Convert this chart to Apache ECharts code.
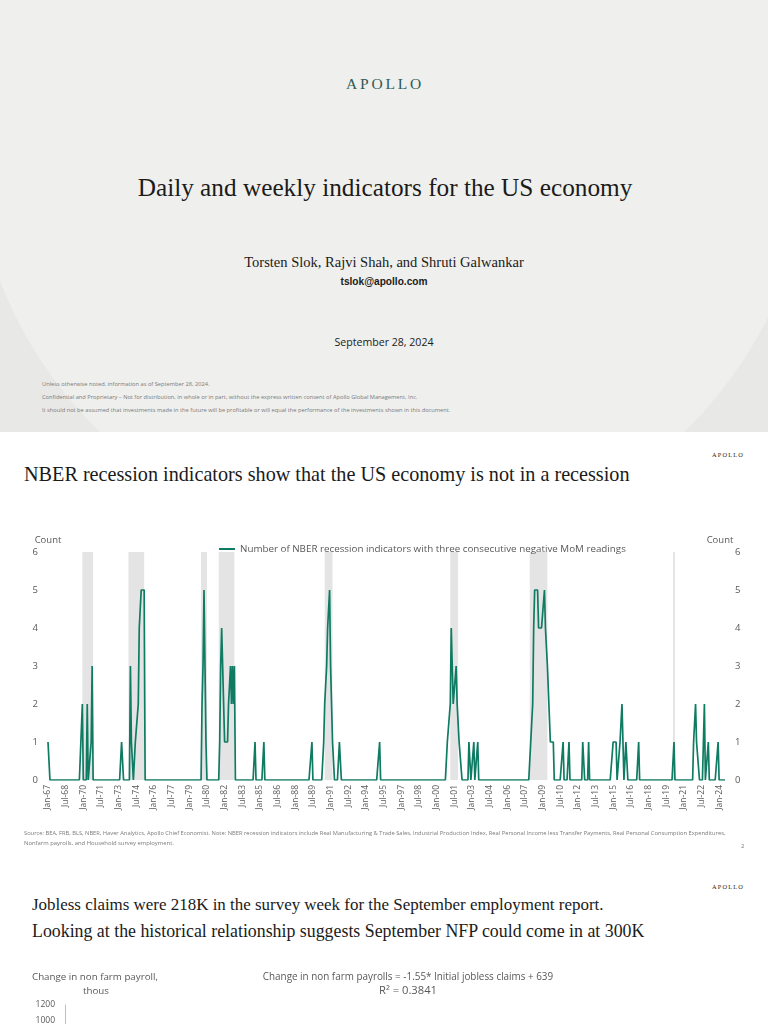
<!DOCTYPE html>
<html>
<head>
<meta charset="utf-8">
<script src="https://cdn.jsdelivr.net/npm/echarts@6/dist/echarts.min.js"></script>
<style>
html,body{margin:0;padding:0;}
body{width:768px;height:1024px;overflow:hidden;position:relative;background:#ffffff;font-family:"Open Sans",sans-serif;}
.t{position:absolute;white-space:nowrap;line-height:1;}
.serif{font-family:"Liberation Serif",serif;color:#1b1b1b;}
.small{color:#7a7a7a;}
.logo{font-family:"Liberation Serif",serif;letter-spacing:0.18em;}
</style>
</head>
<body>
<div style="position:absolute;left:0;top:0;width:768px;height:432px;background:#e8e8e6;overflow:hidden;">
  <div style="position:absolute;left:-28px;top:-290px;width:840px;height:840px;border-radius:50%;background:#efefed;"></div>
</div>

<div class="t logo" style="color:#2f5c54;font-size:14px;" data-cx="385" data-cy="84" data-w="78">APOLLO</div>
<div class="t serif" style="font-size:24px;" data-cx="385" data-cy="188" data-w="495">Daily and weekly indicators for the US economy</div>
<div class="t serif" style="font-size:15px;" data-cx="384" data-cy="262" data-w="280">Torsten Slok, Rajvi Shah, and Shruti Galwankar</div>
<div class="t" style="font-family:'Liberation Sans',sans-serif;font-weight:bold;font-size:10px;color:#1b1b1b;" data-cx="384" data-cy="282" data-w="87">tslok@apollo.com</div>
<div class="t" style="font-size:11px;color:#1b1b1b;" data-cx="384" data-cy="342" data-w="99">September 28, 2024</div>
<div class="t small" style="font-size:5.5px;" data-x="42" data-cy="385" data-w="168">Unless otherwise noted, information as of September 28, 2024.</div>
<div class="t small" style="font-size:5.5px;" data-x="42" data-cy="398" data-w="376">Confidential and Proprietary – Not for distribution, in whole or in part, without the express written consent of Apollo Global Management, Inc.</div>
<div class="t small" style="font-size:5.5px;" data-x="42" data-cy="411" data-w="409">It should not be assumed that investments made in the future will be profitable or will equal the performance of the investments shown in this document.</div>

<div class="t logo" style="color:#1b1b1b;font-size:7px;" data-rx="744" data-cy="455" data-w="32">APOLLO</div>
<div class="t serif" style="font-size:19px;" data-x="24" data-cy="474" data-w="606">NBER recession indicators show that the US economy is not in a recession</div>
<div id="c2" style="position:absolute;left:0;top:520px;width:768px;height:310px;"></div>
<div class="t small" style="font-size:5px;" data-x="24" data-cy="834" data-w="703">Source: BEA, FRB, BLS, NBER, Haver Analytics, Apollo Chief Economist. Note: NBER recession indicators include Real Manufacturing &amp; Trade Sales, Industrial Production Index, Real Personal Income less Transfer Payments, Real Personal Consumption Expenditures,</div>
<div class="t small" style="font-size:5px;" data-x="24" data-cy="844" data-w="150">Nonfarm payrolls, and Household survey employment.</div>
<div class="t small" style="font-size:6px;" data-x="741" data-cy="846">2</div>

<div class="t logo" style="color:#1b1b1b;font-size:7px;" data-rx="744" data-cy="887" data-w="32">APOLLO</div>
<div class="t serif" style="font-size:19px;" data-x="32" data-cy="905" data-w="572">Jobless claims were 218K in the survey week for the September employment report.</div>
<div class="t serif" style="font-size:19px;" data-x="32" data-cy="932" data-w="613">Looking at the historical relationship suggests September NFP could come in at 300K</div>
<div id="c3" style="position:absolute;left:0;top:960px;width:768px;height:300px;"></div>
<div class="t" style="font-size:8.5px;color:#595959;" data-x="32" data-cy="977" data-w="126">Change in non farm payroll,</div>
<div class="t" style="font-size:8.5px;color:#595959;" data-cx="96" data-cy="991" data-w="26">thous</div>
<div class="t" style="font-size:8.5px;color:#595959;" data-cx="408" data-cy="977" data-w="291">Change in non farm payrolls = -1.55* Initial jobless claims + 639</div>
<div class="t" style="font-size:8.5px;color:#595959;" data-cx="408" data-cy="990" data-w="58">R² = 0.3841</div>

<script>
// ---------- DATA ----------
const startYear = 1967;
const monthNames = ['Jan','Feb','Mar','Apr','May','Jun','Jul','Aug','Sep','Oct','Nov','Dec'];
// Number of NBER recession indicators with three consecutive negative MoM readings, one string per year (Jan..Dec)
const countsByYear = [
  "110000000000", // 1967
  "000000000000", // 1968
  "000000000002", // 1969
  "000020001300", // 1970
  "000000000000", // 1971
  "000000000000", // 1972
  "000110000000", // 1973
  "311001112445", // 1974
  "555000000000", // 1975
  "000000000000", // 1976
  "000000000000", // 1977
  "000000000000", // 1978
  "000000000000", // 1979
  "023531000000", // 1980
  "000000013433", // 1981
  "111122323230", // 1982
  "000000000000", // 1983
  "000000010000", // 1984
  "000010000000", // 1985
  "000000000000", // 1986
  "000000000000", // 1987
  "000000000000", // 1988
  "000001000000", // 1989
  "000001223445", // 1990
  "331100000110", // 1991
  "000000000000", // 1992
  "000000000000", // 1993
  "000000000000", // 1994
  "001000000000", // 1995
  "000000000000", // 1996
  "000000000000", // 1997
  "000000000000", // 1998
  "000000000000", // 1999
  "000000000001", // 2000
  "112432223221", // 2001
  "110000000110", // 2002
  "001000100000", // 2003
  "000000000000", // 2004
  "000000000000", // 2005
  "000000000000", // 2006
  "000000000000", // 2007
  "112455554444", // 2008
  "445443331111", // 2009
  "000000000100", // 2010
  "000100000000", // 2011
  "000001100001", // 2012
  "000000000000", // 2013
  "000000000000", // 2014
  "111100011210", // 2015
  "011000000000", // 2016
  "001000000000", // 2017
  "000000000000", // 2018
  "000000000000", // 2019
  "001000000000", // 2020
  "000000000011", // 2021
  "211100000200", // 2022
  "010000000001", // 2023
  "0000000"       // 2024 (Jan..Jul)
];
const recessionStarts = ['Dec-69','Nov-73','Jan-80','Jul-81','Jul-90','Mar-01','Dec-07','Feb-20'];
const recessionEnds   = ['Nov-70','Mar-75','Jul-80','Nov-82','Mar-91','Nov-01','Jun-09','Apr-20'];
const seriesName = 'Number of NBER recession indicators with three consecutive negative MoM readings';
const countAxis = {min: 0, max: 6, step: 1};
// Next slide's scatter chart (only its top y ticks are visible)
const nfpAxis = {min: -1000, max: 1200, step: 200};
const nfpPoints = [];

// ---------- BUILD ----------
const categories = [];
const counts = [];
countsByYear.forEach((s, yi) => {
  const yy = String((startYear + yi) % 100).padStart(2, '0');
  for (let m = 0; m < s.length; m++) {
    categories.push(monthNames[m] + '-' + yy);
    counts.push(Number(s[m]));
  }
});

// ---------- TEXT LAYOUT ----------
document.querySelectorAll('.t').forEach(el => {
  const w = parseFloat(el.dataset.w);
  if (w) {
    const fs = parseFloat(getComputedStyle(el).fontSize);
    const mw = el.getBoundingClientRect().width;
    if (mw > 0) el.style.fontSize = (fs * w / mw) + 'px';
  }
  const r = el.getBoundingClientRect();
  if (el.dataset.cx) el.style.left = (parseFloat(el.dataset.cx) - r.width / 2) + 'px';
  else if (el.dataset.rx) el.style.left = (parseFloat(el.dataset.rx) - r.width) + 'px';
  else el.style.left = el.dataset.x + 'px';
  el.style.top = (parseFloat(el.dataset.cy) - r.height / 2) + 'px';
});

// ---------- CHART 2 ----------
const green = '#0f7b62';
const axisGray = '#595959';
const c2 = echarts.init(document.getElementById('c2'), null, {renderer: 'canvas'});
const yAxisCommon = {
  type: 'value', min: countAxis.min, max: countAxis.max, interval: countAxis.step,
  name: 'Count', nameLocation: 'end', nameGap: 7,
  nameTextStyle: {color: axisGray, fontSize: 9.5, fontFamily: 'Open Sans'},
  axisLine: {show: false}, axisTick: {show: false}, splitLine: {show: false},
  axisLabel: {color: axisGray, fontSize: 9.5, fontFamily: 'Open Sans', margin: 10}
};
c2.setOption({
  animation: false,
  grid: {left: 48, right: 43, top: 32, bottom: 50, containLabel: false},
  legend: {
    left: 214, top: 19, itemWidth: 16, itemHeight: 2, icon: 'rect', itemGap: 0,
    textStyle: {color: axisGray, fontSize: 9.8, fontFamily: 'Open Sans'},
    data: [{name: seriesName, itemStyle: {color: green}}]
  },
  xAxis: {
    type: 'category', data: categories, boundaryGap: false,
    axisLine: {show: false}, axisTick: {show: false}, splitLine: {show: false},
    axisLabel: {interval: 17, rotate: 90, color: axisGray, fontSize: 8.5, fontFamily: 'Open Sans', margin: 5}
  },
  yAxis: [
    Object.assign({}, yAxisCommon, {position: 'left'}),
    Object.assign({}, yAxisCommon, {position: 'right', nameTextStyle: Object.assign({}, yAxisCommon.nameTextStyle, {padding: [0, 10, 0, 0]})})
  ],
  series: [{
    name: seriesName, type: 'line', data: counts, yAxisIndex: 0,
    symbol: 'none', showSymbol: false,
    lineStyle: {color: green, width: 1.7}, itemStyle: {color: green},
    markArea: {
      silent: true,
      itemStyle: {color: '#e4e4e4'},
      data: recessionStarts.map((s, i) => [{xAxis: s}, {xAxis: recessionEnds[i]}])
    }
  }]
});

// ---------- CHART 3 (top of next slide) ----------
const c3 = echarts.init(document.getElementById('c3'), null, {renderer: 'canvas'});
c3.setOption({
  animation: false,
  grid: {left: 65, right: 40, top: 45, height: 176, containLabel: false},
  xAxis: {type: 'value', show: false},
  yAxis: {
    type: 'value', min: nfpAxis.min, max: nfpAxis.max, interval: nfpAxis.step,
    axisLine: {show: true, lineStyle: {color: '#bfbfbf'}}, axisTick: {show: false}, splitLine: {show: false},
    axisLabel: {color: axisGray, fontSize: 8.5, fontFamily: 'Open Sans', margin: 10, formatter: v => String(v)}
  },
  series: [{type: 'scatter', data: nfpPoints}]
});
</script>
</body>
</html>
